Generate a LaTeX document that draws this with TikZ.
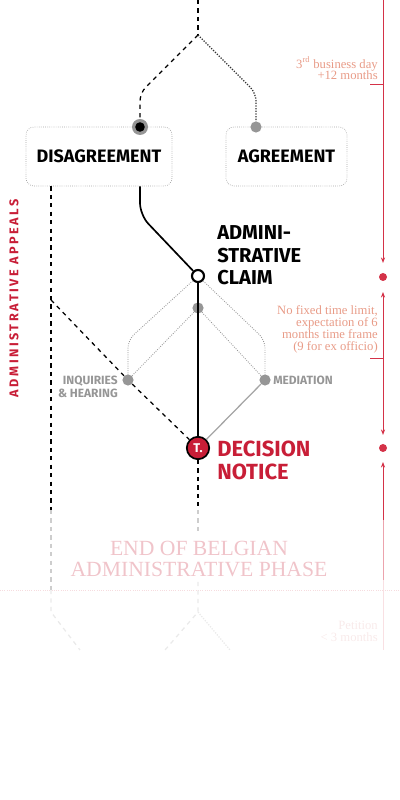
\documentclass[tikz,border=0pt]{standalone}
\usepackage{fontspec}
\setmainfont{Liberation Serif}
\newfontfamily\sansbold{Fira Sans}
\newfontfamily\spacedsans[LetterSpace=20]{Fira Sans}
\usetikzlibrary{arrows.meta,positioning}

\definecolor{claimRed}{RGB}{200,30,55}
\definecolor{lineRed}{RGB}{212,50,72}
\definecolor{noteSalmon}{RGB}{232,155,135}
\definecolor{dotGrey}{RGB}{150,150,150}
\definecolor{boxGrey}{RGB}{165,165,165}
\definecolor{fadePink}{RGB}{240,196,202}
\definecolor{fadeGrey}{RGB}{205,205,205}
\definecolor{paleGrey}{RGB}{234,234,234}
\definecolor{palePink}{RGB}{248,234,234}

\begin{document}
\begin{tikzpicture}[scale=1.0000]
	\tikzstyle{every node}=[scale=1.0000]
	\tikzstyle{outcome}=[draw=boxGrey, densely dotted, line width=0.5pt, rounded corners=0.2000cm, minimum height=1.4750cm, inner sep=0, font=\sansbold\bfseries\fontsize{12.8}{14}\selectfont]
	\tikzstyle{greydot}=[circle, fill=dotGrey, inner sep=0, minimum size=0.2800cm]
	\tikzstyle{reddot}=[circle, fill=lineRed, inner sep=0, minimum size=0.2000cm]
	\tikzstyle{stagelabel}=[inner sep=0, align=left, font=\sansbold\bfseries\fontsize{14.3}{16}\selectfont]
	\tikzstyle{steplabel}=[inner sep=0, text=dotGrey, font=\sansbold\bfseries\fontsize{8.5}{9.3}\selectfont]
	\tikzstyle{timenote}=[inner sep=0, align=right, text=noteSalmon, font=\fontsize{9}{8.4}\selectfont]
	\tikzstyle{route}=[dashed, line width=0.9pt]
	\tikzstyle{option}=[densely dotted, dotGrey, line width=0.6pt]
	\tikzstyle{timeline}=[lineRed, line width=0.7pt]
	\tikzstyle{timearrow}=[timeline, -{Stealth[length=4pt,width=3pt]}]

	\useasboundingbox (0.0000,0.0000) rectangle (10.0000,20.0000);

	%% outcome boxes
	\node[outcome, minimum width=3.6500cm] (disagree) at (2.4750,16.0875) {DISAGREEMENT};
	\node[outcome, minimum width=3.0250cm] (agree) at (7.1625,16.0875) {AGREEMENT};

	\coordinate (start) at (4.9500,20.0000);
	\coordinate (split) at (4.9500,19.1250);
	\node[circle, fill=dotGrey, inner sep=0, minimum size=0.4000cm] (disdot) at (3.5000,16.8250) {};
	\node[circle, fill=black, inner sep=0, minimum size=0.2400cm] at (disdot) {};
	\node[greydot] (agdot) at (6.4000,16.8250) {};

	\draw[route] (start) -- (split);
	\draw[route, rounded corners=0.2000cm] (split) -- (3.5000,17.6750) -- (disdot);
	\draw[densely dotted, line width=0.9pt, black!80, rounded corners=0.2000cm] (split) -- (6.4000,17.6750) -- (agdot);

	%% claim and decision
	\node[circle, draw, line width=1.5pt, fill=white, inner sep=0, minimum size=0.3000cm] (claim) at (4.9500,13.1000) {};
	\node[stagelabel, anchor=west] (claimtext) at (5.4250,13.6125) {ADMINI-\\STRATIVE\\CLAIM};

	\node[circle, draw=black, line width=1.2pt, fill=claimRed, inner sep=0, minimum size=0.5600cm, text=white, font=\sansbold\bfseries\fontsize{9}{9}\selectfont] (decision) at (4.9500,8.8000) {T.};
	\node[stagelabel, anchor=west, text=claimRed, font=\sansbold\bfseries\fontsize{15.6}{16.5}\selectfont] (decisiontext) at (5.4250,8.4875) {DECISION\\NOTICE};

	\node[greydot] (hub) at (4.9500,12.3000) {};
	\node[greydot] (inq) at (3.2000,10.5000) {};
	\node[greydot] (med) at (6.6250,10.5000) {};
	\node[steplabel, anchor=east, align=right] (inqtext) at (2.9500,10.3375) {INQUIRIES\\\& HEARING};
	\node[steplabel, anchor=west] (medtext) at (6.8250,10.5000) {MEDIATION};

	\draw[line width=1.2pt, rounded corners=0.3000cm] (disagree.south -| disdot) -- (3.5000,14.6250) -- (claim);
	\draw[option, rounded corners=0.2000cm] (claim) -- (3.2000,11.5000) -- (inq);
	\draw[option, rounded corners=0.2000cm] (claim) -- (6.6250,11.5000) -- (med);
	\draw[option] (hub) -- (inq);
	\draw[option] (hub) -- (med);
	\draw[line width=1.1pt] (claim) -- (decision);
	\draw[line width=0.9pt, boxGrey] (med) -- (decision);

	%% appeal route on the left
	\coordinate (branch) at (1.2750,12.5000);
	\draw[route] (disagree.south -| branch) -- (1.2750,7.2500);
	\draw[route] (branch) -- (inq) -- (decision);
	\node[rotate=90, inner sep=0, text=claimRed, font=\spacedsans\bfseries\fontsize{9}{9}\selectfont] (appeals) at (0.3500,12.5500) {ADMINISTRATIVE APPEALS};

	%% end of the phase, fading out
	\draw[route] (decision) -- (4.9500,7.2500);
	\draw[route, fadeGrey] (4.9500,7.2500) -- (4.9500,6.6250);
	\draw[route, fadeGrey] (1.2750,7.2500) -- (1.2750,5.2500);
	\node[inner sep=0, align=center, text=fadePink, font=\fontsize{15.4}{15.6}\selectfont] (endphase) at (4.9750,6.0250) {END OF BELGIAN\\ADMINISTRATIVE PHASE};
	\draw[densely dotted, line width=0.6pt, fadePink!60] (0.0000,5.2500) -- (10.0000,5.2500);
	\draw[route, paleGrey] (4.9500,5.4500) -- (4.9500,4.7000) -- (4.1250,3.7500);
	\draw[densely dotted, line width=0.9pt, paleGrey] (4.9500,4.7000) -- (5.7500,3.7500);
	\draw[route, paleGrey] (1.2750,5.2500) -- (1.2750,4.7000) -- (2.0000,3.7500);

	%% time line on the right
	\node[reddot] (tlclaim) at (9.5750,13.0750) {};
	\node[reddot] (tldecision) at (9.5750,8.8000) {};
	\coordinate (tltop) at (9.5750,20.0000);
	\coordinate (tlmid) at (9.5750,11.0500);
	\coordinate (tlend) at (9.5750,7.0000);
	\draw[timearrow] (tltop) -- (9.5750,13.4250);
	\draw[timeline] (9.2500,17.9000) -- (9.5750,17.9000);
	\draw[timearrow] (tlmid) -- (9.5750,12.7000);
	\draw[timearrow] (tlmid) -- (9.5750,9.1250);
	\draw[timeline] (9.2500,11.0500) -- (tlmid);
	\draw[timearrow, {Stealth[length=4pt,width=3pt]}-] (9.5750,8.4500) -- (tlend);
	\draw[timeline, lineRed!45] (tlend) -- (9.5750,5.5000);
	\draw[timeline, lineRed!15] (9.5750,5.5000) -- (9.5750,3.7500);

	\node[timenote, anchor=east] (note1) at (9.4500,18.2875) {3\textsuperscript{rd} business day\\+12 months};
	\node[timenote, anchor=east] (note2) at (9.4500,11.7625) {No fixed time limit,\\expectation of 6\\months time frame\\(9 for ex officio)};
	\node[timenote, anchor=east, text=palePink] (note3) at (9.4500,4.2250) {Petition\\< 3 months};

\end{tikzpicture}
\end{document}
